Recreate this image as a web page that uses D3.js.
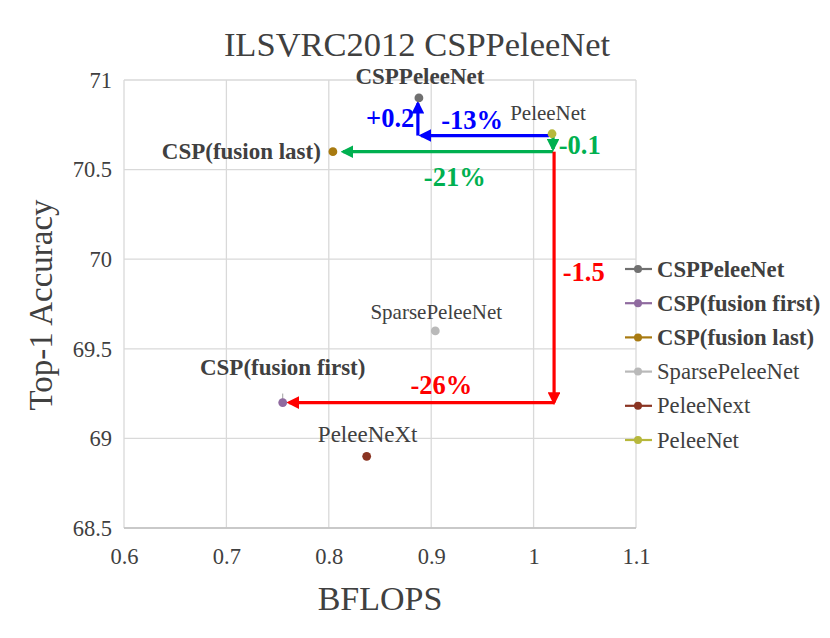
<!DOCTYPE html>
<html>
<head>
<meta charset="utf-8">
<script src="https://cdn.jsdelivr.net/npm/d3@7"></script>
<style>
  body { margin: 0; background: #fff; }
  svg text { font-family: "Liberation Serif", "DejaVu Serif", serif !important; }
</style>
</head>
<body>
<svg id="chart" width="830" height="638"></svg>
<script>
// models and their values
var models = ["CSPPeleeNet", "CSP(fusion first)", "CSP(fusion last)", "SparsePeleeNet", "PeleeNext", "PeleeNet"];
var bflops = [0.888, 0.755, 0.804, 0.904, 0.837, 1.018];
var top1 = [70.9, 69.2, 70.6, 69.6, 68.9, 70.7];
var colors = ["#707070", "#8f6a9f", "#a87a10", "#b9b9b9", "#8a3422", "#b7b83c"];
var boldLegend = [true, true, true, false, false, false];

// labels next to points
var pointLabels = ["CSPPeleeNet", "CSP(fusion first)", "CSP(fusion last)", "SparsePeleeNet", "PeleeNeXt", "PeleeNet"];
var pointLabelBold = [true, true, true, false, false, false];
var pointLabelSize = [23, 23, 23, 21, 23, 21];

var xTicks = [0.6, 0.7, 0.8, 0.9, 1, 1.1];
var yTicks = [68.5, 69, 69.5, 70, 70.5, 71];

// annotation arrows (data coords)
var arrows = [
  { x1: 1.015, y1: 70.69, x2: 0.890, y2: 70.69, c: "#0000ff" },
  { x1: 0.887, y1: 70.69, x2: 0.887, y2: 70.87, c: "#0000ff" },
  { x1: 1.019, y1: 70.69, x2: 1.019, y2: 70.615, c: "#00b050" },
  { x1: 1.019, y1: 70.6, x2: 0.814, y2: 70.6, c: "#00b050" },
  { x1: 1.020, y1: 70.6, x2: 1.020, y2: 69.2, c: "#ff0000" },
  { x1: 1.020, y1: 69.2, x2: 0.761, y2: 69.2, c: "#ff0000" }
];
var arrowTexts = [
  { t: "+0.2", x: 0.86, y: 70.79, c: "#0000ff" },
  { t: "-13%", x: 0.94, y: 70.775, c: "#0000ff" },
  { t: "-0.1", x: 1.045, y: 70.64, c: "#00b050" },
  { t: "-21%", x: 0.923, y: 70.46, c: "#00b050" },
  { t: "-1.5", x: 1.049, y: 69.93, c: "#ff0000" },
  { t: "-26%", x: 0.91, y: 69.3, c: "#ff0000" }
];

var svg = d3.select("#chart");
var mLeft = 124, mTop = 80, w = 512, h = 448;

var x = d3.scaleLinear().domain([0.6, 1.1]).range([mLeft, mLeft + w]);
var y = d3.scaleLinear().domain([68.5, 71]).range([mTop + h, mTop]);

// grid
var grid = svg.append("g");
grid.selectAll(".gx").data(xTicks).enter().append("line")
  .attr("x1", d => x(d)).attr("x2", d => x(d))
  .attr("y1", mTop).attr("y2", mTop + h)
  .attr("stroke", "#d9d9d9").attr("stroke-width", 1.3);
grid.selectAll(".gy").data(yTicks).enter().append("line")
  .attr("x1", mLeft).attr("x2", mLeft + w)
  .attr("y1", d => y(d)).attr("y2", d => y(d))
  .attr("stroke", "#d9d9d9").attr("stroke-width", 1.3);
svg.append("line").attr("x1", mLeft).attr("x2", mLeft + w).attr("y1", mTop + h).attr("y2", mTop + h)
  .attr("stroke", "#c0c0c0").attr("stroke-width", 1.3);

// axes
var xAxis = svg.append("g").attr("transform", "translate(0," + (mTop + h) + ")")
  .call(d3.axisBottom(x).tickValues(xTicks).tickSize(0).tickPadding(20).tickFormat(d3.format("")));
var yAxis = svg.append("g").attr("transform", "translate(" + mLeft + ",0)")
  .call(d3.axisLeft(y).tickValues(yTicks).tickSize(0).tickPadding(12).tickFormat(d3.format("")));
[xAxis, yAxis].forEach(function(a) {
  a.select(".domain").remove();
  a.attr("font-family", null);
  a.selectAll("text").attr("font-size", 22.5).attr("fill", "#404040");
});

// titles
svg.append("text").attr("x", 417).attr("y", 56).attr("text-anchor", "middle")
  .attr("font-size", 34.5).attr("fill", "#404040").text("ILSVRC2012 CSPPeleeNet");
svg.append("text").attr("x", 380).attr("y", 610).attr("text-anchor", "middle")
  .attr("font-size", 34).attr("fill", "#404040").text("BFLOPS");
svg.append("text").attr("transform", "translate(52," + (mTop + h / 2 + 1) + ") rotate(-90)")
  .attr("text-anchor", "middle").attr("font-size", 33).attr("fill", "#404040").text("Top-1 Accuracy");

// arrows
var defs = svg.append("defs");
["#0000ff", "#00b050", "#ff0000"].forEach(function(c, i) {
  defs.append("marker").attr("id", "ah" + i)
    .attr("viewBox", "0 0 10 10").attr("refX", 8).attr("refY", 5)
    .attr("markerWidth", 4).attr("markerHeight", 4).attr("orient", "auto")
    .append("path").attr("d", "M0,0 L10,5 L0,10 Z").attr("fill", c);
});
var colIdx = { "#0000ff": 0, "#00b050": 1, "#ff0000": 2 };
svg.append("g").selectAll("line").data(arrows).enter().append("line")
  .attr("x1", d => x(d.x1)).attr("y1", d => y(d.y1))
  .attr("x2", d => x(d.x2)).attr("y2", d => y(d.y2))
  .attr("stroke", d => d.c).attr("stroke-width", 3.2)
  .attr("marker-end", d => "url(#ah" + colIdx[d.c] + ")");

svg.append("g").selectAll("text").data(arrowTexts).enter().append("text")
  .attr("x", d => x(d.x)).attr("y", d => y(d.y)).attr("text-anchor", "middle")
  .attr("dominant-baseline", "central")
  .attr("font-size", 26.5).attr("font-weight", "bold").attr("fill", d => d.c).text(d => d.t);

// points
var pts = models.map((m, i) => ({ m: m, x: bflops[i], y: top1[i], c: colors[i], lab: pointLabels[i], b: pointLabelBold[i], s: pointLabelSize[i] }));
// small stem above the CSP(fusion first) marker
svg.append("line").attr("x1", x(bflops[1])).attr("x2", x(bflops[1]))
  .attr("y1", y(top1[1]) - 9).attr("y2", y(top1[1])).attr("stroke", "#a0a0a0").attr("stroke-width", 1);
svg.append("g").selectAll("circle").data(pts).enter().append("circle")
  .attr("cx", d => x(d.x)).attr("cy", d => y(d.y)).attr("r", 4.4).attr("fill", d => d.c);

// point labels (offsets in px relative to the point)
var labOff = [[1, -21], [0, -35], [-12, 0], [1, -19], [1, -22], [-4, -21]];
var labAnchor = ["middle", "middle", "end", "middle", "middle", "middle"];
svg.append("g").selectAll("text").data(pts).enter().append("text")
  .attr("x", (d, i) => x(d.x) + labOff[i][0]).attr("y", (d, i) => y(d.y) + labOff[i][1])
  .attr("text-anchor", (d, i) => labAnchor[i]).attr("dominant-baseline", "central")
  .attr("font-size", d => d.s).attr("font-weight", d => d.b ? "bold" : "normal")
  .attr("fill", "#404040").text(d => d.lab);

// legend
var lg = svg.append("g").attr("transform", "translate(638,269)");
var items = lg.selectAll("g").data(models).enter().append("g")
  .attr("transform", (d, i) => "translate(0," + i * 34.2 + ")");
items.append("line").attr("x1", -13).attr("x2", 14).attr("stroke", (d, i) => colors[i]).attr("stroke-width", 2.2);
items.append("circle").attr("r", 4).attr("fill", (d, i) => colors[i]);
items.append("text").attr("x", 19).attr("dominant-baseline", "central")
  .attr("font-size", 22.7).attr("font-weight", (d, i) => boldLegend[i] ? "bold" : "normal")
  .attr("fill", "#404040").text(d => d);
</script>
</body>
</html>
